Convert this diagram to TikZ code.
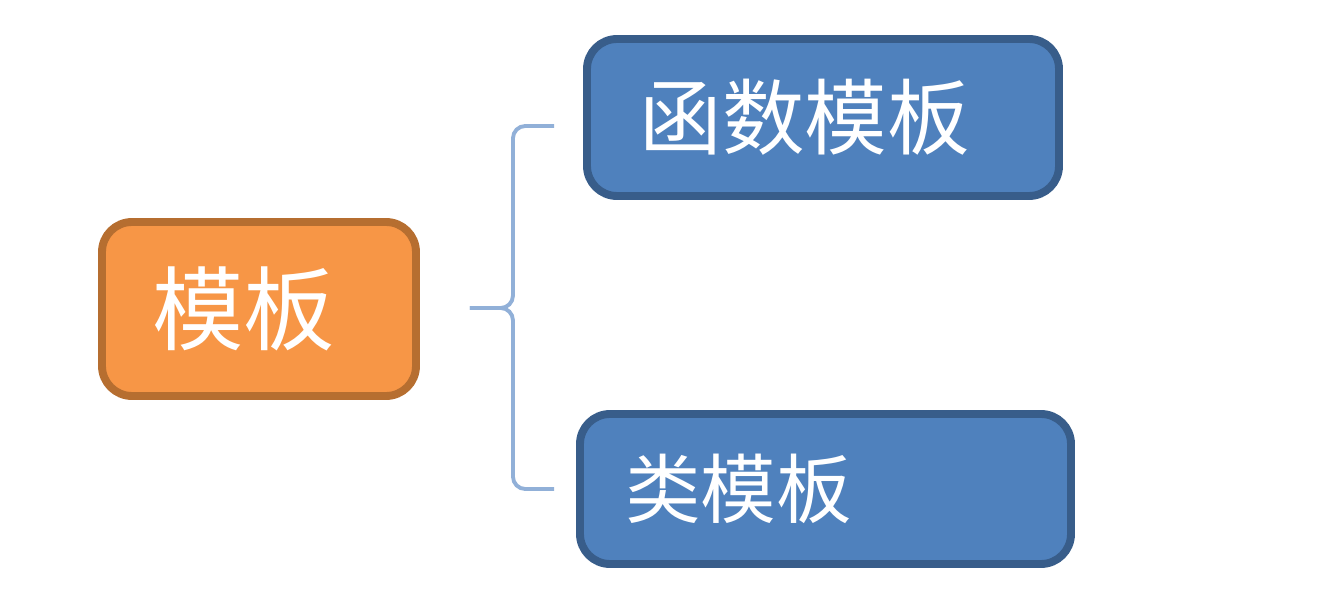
\documentclass[tikz,border=0pt]{standalone}
\usepackage{fontspec}
\newfontfamily\cjk{Noto Sans CJK SC}
\usepackage{xcolor}
\usepackage{tikz}
\usetikzlibrary{positioning,calc}
\definecolor{tplfill}{RGB}{247,150,70}
\definecolor{tpldraw}{RGB}{182,110,48}
\definecolor{subfill}{RGB}{79,129,189}
\definecolor{subdraw}{RGB}{56,93,138}
\definecolor{bracecol}{RGB}{145,176,216}

\begin{document}
\begin{tikzpicture}[box/.style={draw,rounded corners=0.6cm,line width=4.5pt,align=left,inner xsep=1cm,text=white},tplbox/.style={box,draw=tpldraw,fill=tplfill,font=\cjk\fontsize{52}{60}\selectfont},subbox/.style={box,draw=subdraw,fill=subfill},link/.style={draw=bracecol,line width=2.2pt,rounded corners=7pt}]
\useasboundingbox (0,0) rectangle (26.58,12.18);
\node[tplbox,text width=4.28cm,minimum height=3.48cm] (tpl) at (5.18,6.00) {模板};
\node[subbox,minimum height=3.14cm,inner xsep=1.05cm,text width=7.34cm,font=\cjk\fontsize{47}{54}\selectfont] (fn) at (16.46,9.83) {函数模板};
\node[subbox,minimum height=3.0cm,inner xsep=0.9cm,text width=8.02cm,font=\cjk\fontsize{43}{50}\selectfont] (cls) at (16.51,2.40) {类模板};
\coordinate (tip) at ($(tpl.east)+(1,0.02)$);
\coordinate (spine) at ($(tip)+(0.86,0)$);
\coordinate (fnend) at ($(fn.west)+(-0.58,-0.17)$);
\coordinate (clsend) at ($(cls.west)+(-0.44,0)$);
\draw[link] (fnend) -| (spine) -- (tip);
\draw[link] (clsend) -| (spine) -- (tip);
\end{tikzpicture}
\end{document}
